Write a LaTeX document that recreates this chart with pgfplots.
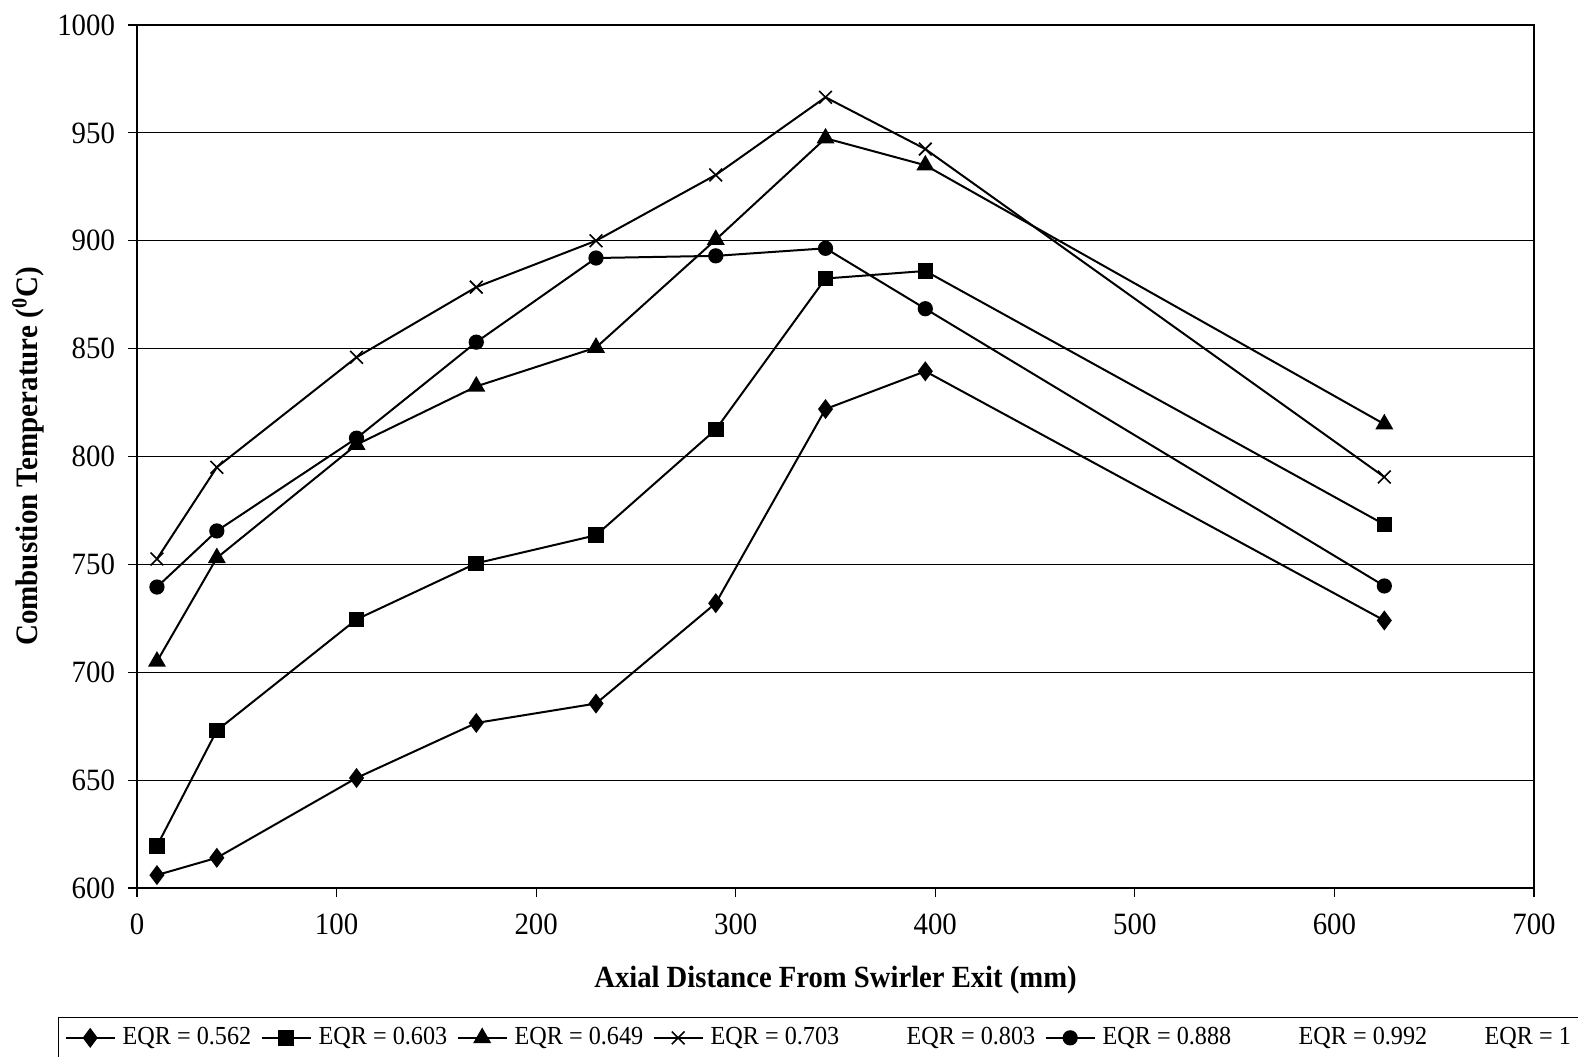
\documentclass[border=0pt]{standalone}
\usepackage{fontspec}
\setmainfont{Liberation Serif}[FakeStretch=0.93]
\usepackage{pgfplots}
\pgfplotsset{compat=1.18}
\newcommand{\legtext}[1]{\makebox[65.5pt][l]{#1}}
\begin{document}
\begin{tikzpicture}
\useasboundingbox (-68.5pt,-84pt) rectangle (720.5pt,444pt);
\clip (-68.5pt,-84pt) rectangle (720.5pt,444pt);
\begin{axis}[
  at={(0pt,0pt)}, anchor=south west,
  scale only axis,
  width=698.5pt, height=431.5pt,
  xmin=0, xmax=700, ymin=600, ymax=1000,
  xtick={0,100,...,700}, ytick={600,650,...,1000},
  tick pos=left, tick align=outside,
  major tick length=4.5pt,
  ymajorgrids,
  grid style={black, line width=0.6pt},
  axis line style={black, line width=0.7pt},
  every tick/.style={black, line width=0.6pt},
  /pgf/number format/assume math mode=true,
  /pgf/number format/1000 sep={},
  tick label style={font=\fontsize{15.5}{18}\selectfont},
  xticklabel style={yshift=-5pt},
  yticklabel style={xshift=-3pt},
  xlabel={Axial Distance From Swirler Exit (mm)},
  ylabel={Combustion Temperature (\textsuperscript{0}C)},
  xlabel style={font=\fontsize{15.4}{18}\selectfont\bfseries, at={(axis description cs:0.5,-0.1066)}, anchor=center},
  ylabel style={font=\fontsize{15.6}{18}\selectfont\bfseries, at={(axis description cs:-0.078,0.5)}, anchor=center},
  legend columns=8,
  legend style={at={(axis description cs:-0.05655,-0.14948)}, anchor=north west,
    draw=black, line width=0.7pt, inner xsep=3pt, inner ysep=2pt,
    column sep=0pt,
    nodes={font=\fontsize{13}{15}\selectfont, inner xsep=3.5pt, inner ysep=3pt}},
  legend image code/.code={\draw[mark repeat=2,mark phase=2,#1] plot coordinates {(0pt,0pt) (12.25pt,0pt) (24.5pt,0pt)};},
]
\addplot[black, line width=1pt, mark=diamond*, mark size=4.2pt, mark options={solid, fill=black}] coordinates {
(10,606) (40,614) (110,651) (170,676.5) (230,685.5) (290,732) (345,822) (395,839.5) (625,724)};
\addlegendentry{\legtext{EQR = 0.562}}
\addplot[black, line width=1pt, mark=square*, mark size=3.4pt, mark options={solid, fill=black}] coordinates {
(10,619.5) (40,673) (110,724.5) (170,750.5) (230,763.5) (290,812.5) (345,882.5) (395,886) (625,768.5)};
\addlegendentry{\legtext{EQR = 0.603}}
\addplot[black, line width=1pt, mark=triangle*, mark size=4.2pt, mark options={solid, fill=black}] coordinates {
(10,705) (40,753) (110,805.5) (170,832.5) (230,850.5) (290,900.5) (345,947.5) (395,935) (625,815)};
\addlegendentry{\legtext{EQR = 0.649}}
\addplot[black, line width=1pt, mark=x, mark size=4.5pt, mark options={solid, line width=0.8pt}] coordinates {
(10,752.5) (40,795) (110,846) (170,878.5) (230,900) (290,930.5) (345,966.5) (395,942.5) (625,790.5)};
\addlegendentry{\legtext{EQR = 0.703}}
\addlegendimage{white, line width=1pt, no markers}
\addlegendentry{\legtext{EQR = 0.803}}
\addplot[black, line width=1pt, mark=*, mark size=3.3pt, mark options={solid, fill=black}] coordinates {
(10,739.5) (40,765.5) (110,808.5) (170,853) (230,892) (290,893) (345,896.5) (395,868.5) (625,740)};
\addlegendentry{\legtext{EQR = 0.888}}
\addlegendimage{white, line width=1pt, no markers}
\addlegendentry{\makebox[60.5pt][l]{EQR = 0.992}}
\addlegendimage{white, line width=1pt, no markers}
\addlegendentry{\makebox[90pt][l]{EQR = 1}}
\end{axis}
\end{tikzpicture}
\end{document}
